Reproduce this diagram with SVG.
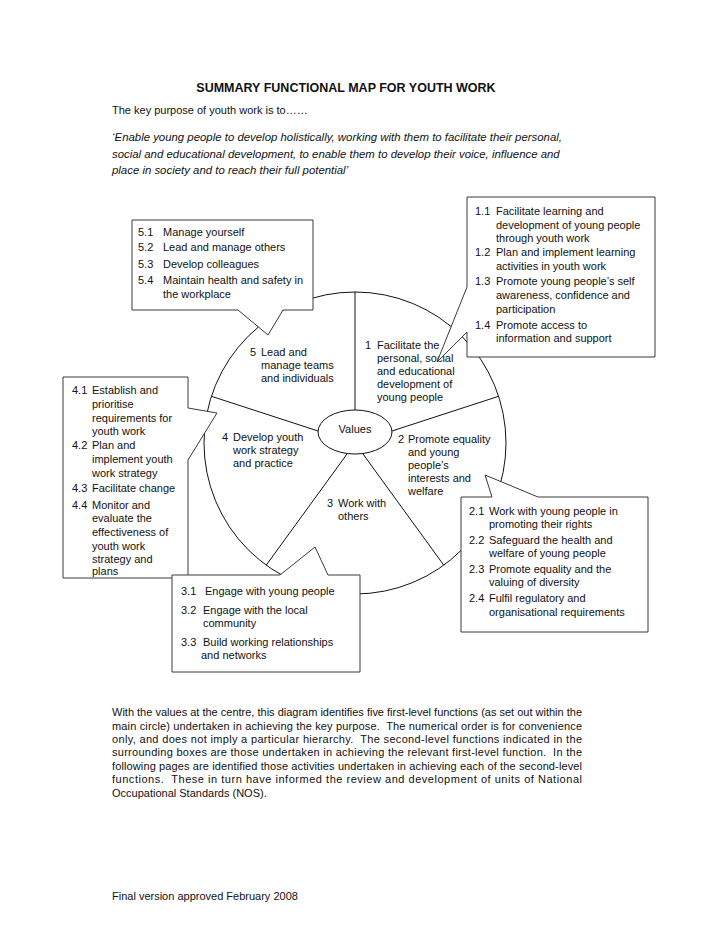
<svg xmlns="http://www.w3.org/2000/svg" width="728" height="942" viewBox="0 0 728 942">
<style>
text{font-family:"Liberation Sans",Arial,sans-serif;font-size:11px;fill:#111}
.title{font-weight:bold;font-size:12.5px}
.it{font-style:italic;font-size:11.4px}
.box{fill:#fff;stroke:#3a3a3a;stroke-width:1}
.ln{stroke:#111;stroke-width:1;fill:none}
.j{white-space:pre}
</style>
<rect x="0" y="0" width="728" height="942" fill="#fff"/>
<g id="header">
<text class="title" x="346" y="92" text-anchor="middle">SUMMARY FUNCTIONAL MAP FOR YOUTH WORK</text>
<text x="112" y="114" font-size="11.3">The key purpose of youth work is to……</text>
<text class="it" x="112" y="141">‘Enable young people to develop holistically, working with them to facilitate their personal,</text>
<text class="it" x="112" y="158">social and educational development, to enable them to develop their voice, influence and</text>
<text class="it" x="112" y="174">place in society and to reach their full potential’</text>
</g>
<g id="connectors">
<circle class="ln" cx="355" cy="443" r="151"/>
<line class="ln" x1="355" y1="443" x2="355" y2="292"/>
<line class="ln" x1="355" y1="443" x2="498.6" y2="396.3"/>
<line class="ln" x1="355" y1="443" x2="443.8" y2="565.2"/>
<line class="ln" x1="355" y1="443" x2="266.2" y2="565.2"/>
<line class="ln" x1="355" y1="443" x2="211.4" y2="396.3"/>
</g>
<g id="values">
<ellipse cx="355" cy="432" rx="37" ry="22" fill="#fff" stroke="#111"/>
<text x="355" y="433" text-anchor="middle" font-size="12">Values</text>
</g>
<g id="f1">
<text x="365" y="349">1</text>
<text x="377" y="349">Facilitate the</text>
<text x="377" y="362">personal, social</text>
<text x="377" y="375">and educational</text>
<text x="377" y="388">development of</text>
<text x="377" y="401">young people</text>
</g>
<g id="f5">
<text x="250" y="356">5</text>
<text x="261" y="356">Lead and</text>
<text x="261" y="369">manage teams</text>
<text x="261" y="382">and individuals</text>
</g>
<g id="f4">
<text x="222" y="441">4</text>
<text x="233" y="441">Develop youth</text>
<text x="233" y="454">work strategy</text>
<text x="233" y="467">and practice</text>
</g>
<g id="f2">
<text x="398" y="443">2</text>
<text x="408" y="443">Promote equality</text>
<text x="408" y="456">and young</text>
<text x="408" y="469">people’s</text>
<text x="408" y="482">interests and</text>
<text x="408" y="495">welfare</text>
</g>
<g id="f3">
<text x="327" y="507">3</text>
<text x="338" y="507">Work with</text>
<text x="338" y="520">others</text>
</g>
<g id="box5">
<path class="box" d="M132,220 H313 V310 H283 L268,335 L238,310 H132 Z"/>
<text x="138" y="236">5.1</text><text x="163" y="236">Manage yourself</text>
<text x="138" y="251">5.2</text><text x="163" y="251">Lead and manage others</text>
<text x="138" y="268">5.3</text><text x="163" y="268">Develop colleagues</text>
<text x="138" y="284">5.4</text><text x="163" y="284">Maintain health and safety in</text>
<text x="163" y="298">the workplace</text>
</g>
<g id="box1">
<path class="box" d="M467,197 H655 V357 H467 V332 L437,362 L467,287 Z"/>
<text x="475" y="215">1.1</text><text x="496" y="215">Facilitate learning and</text>
<text x="496" y="229">development of young people</text>
<text x="496" y="242">through youth work</text>
<text x="475" y="256">1.2</text><text x="496" y="256">Plan and implement learning</text>
<text x="496" y="270">activities in youth work</text>
<text x="475" y="285">1.3</text><text x="496" y="285">Promote young people’s self</text>
<text x="496" y="299">awareness, confidence and</text>
<text x="496" y="313">participation</text>
<text x="475" y="329">1.4</text><text x="496" y="329">Promote access to</text>
<text x="496" y="342">information and support</text>
</g>
<g id="box4">
<path class="box" d="M63,377 H188 V408 L217,413 L188,460 V578 H63 Z"/>
<text x="72" y="394">4.1</text><text x="92" y="394">Establish and</text>
<text x="92" y="408">prioritise</text>
<text x="92" y="422">requirements for</text>
<text x="92" y="435">youth work</text>
<text x="72" y="449">4.2</text><text x="92" y="449">Plan and</text>
<text x="92" y="463">implement youth</text>
<text x="92" y="477">work strategy</text>
<text x="72" y="492">4.3</text><text x="92" y="492">Facilitate change</text>
<text x="72" y="509">4.4</text><text x="92" y="509">Monitor and</text>
<text x="92" y="522">evaluate the</text>
<text x="92" y="536">effectiveness of</text>
<text x="92" y="550">youth work</text>
<text x="92" y="563">strategy and</text>
<text x="92" y="575">plans</text>
</g>
<g id="box2">
<path class="box" d="M461,497 H492 L485,475 L538,497 H648 V632 H461 Z"/>
<text x="469" y="515">2.1</text><text x="489" y="515">Work with young people in</text>
<text x="489" y="528">promoting their rights</text>
<text x="469" y="544">2.2</text><text x="489" y="544">Safeguard the health and</text>
<text x="489" y="557">welfare of young people</text>
<text x="469" y="573">2.3</text><text x="489" y="573">Promote equality and the</text>
<text x="489" y="586">valuing of diversity</text>
<text x="469" y="602" font-size="12">2.4</text><text x="489" y="602">Fulfil regulatory and</text>
<text x="489" y="616">organisational requirements</text>
</g>
<g id="box3">
<path class="box" d="M172,575 H280 L315,547 L328,575 H360 V672 H172 Z"/>
<text x="181" y="595">3.1</text><text x="205" y="595">Engage with young people</text>
<text x="181" y="614">3.2</text><text x="203" y="614">Engage with the local</text>
<text x="203" y="627">community</text>
<text x="181" y="646">3.3</text><text x="203" y="646">Build working relationships</text>
<text x="201" y="659">and networks</text>
</g>
<g id="footer">
<text class="j" x="112" y="716" textLength="470" lengthAdjust="spacing">With the values at the centre, this diagram identifies five first-level functions (as set out within the</text>
<text class="j" x="112" y="730" textLength="470" lengthAdjust="spacing">main circle) undertaken in achieving the key purpose.  The numerical order is for convenience</text>
<text class="j" x="112" y="743" textLength="470" lengthAdjust="spacing">only, and does not imply a particular hierarchy.  The second-level functions indicated in the</text>
<text class="j" x="112" y="756" textLength="470" lengthAdjust="spacing">surrounding boxes are those undertaken in achieving the relevant first-level function.  In the</text>
<text class="j" x="112" y="770" textLength="470" lengthAdjust="spacing">following pages are identified those activities undertaken in achieving each of the second-level</text>
<text class="j" x="112" y="783" textLength="470" lengthAdjust="spacing">functions.  These in turn have informed the review and development of units of National</text>
<text x="112" y="797">Occupational Standards (NOS).</text>
<text x="112" y="900" font-size="12">Final version approved February 2008</text>
</g>
</svg>
